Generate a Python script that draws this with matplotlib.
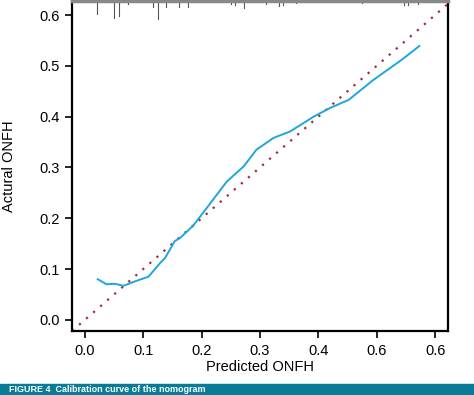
import numpy as np
import matplotlib.pyplot as plt
from matplotlib.patches import Rectangle

plt.rcParams["font.family"] = ["Liberation Sans", "DejaVu Sans"]

# Calibration curve
pred_x = [0.022, 0.037, 0.051, 0.066, 0.089, 0.109, 0.129, 0.137, 0.154,
          0.163, 0.186, 0.214, 0.243, 0.272, 0.294, 0.323, 0.352, 0.392,
          0.420, 0.452, 0.494, 0.543, 0.573]
actual_y = [0.080, 0.070, 0.071, 0.067, 0.077, 0.085, 0.112, 0.121, 0.155,
            0.161, 0.186, 0.228, 0.272, 0.302, 0.335, 0.358, 0.371, 0.400,
            0.417, 0.433, 0.472, 0.512, 0.539]

# Rug marks along the top
rug_x = [0.021, 0.050, 0.058, 0.074, 0.117, 0.125, 0.139, 0.161, 0.177,
         0.250, 0.257, 0.273, 0.310, 0.333, 0.340, 0.362, 0.475, 0.547,
         0.554, 0.571]
rug_len = [13, 17, 15, 3, 6, 18, 6, 6, 6, 3, 4, 7, 3, 5, 4, 2, 2, 4, 4, 3]

x_ticks = [0.0, 0.1, 0.2, 0.3, 0.4, 0.5, 0.6]
x_labels = ["0.0", "0.1", "0.2", "0.3", "0.4", "0.6", "0.6"]
y_ticks = [0.0, 0.1, 0.2, 0.3, 0.4, 0.5, 0.6]

fig = plt.figure(figsize=(4.74, 3.95), dpi=100)
ax = fig.add_axes([0.152, 0.162, 0.793, 0.836])

xlim = (-0.022, 0.622)
ylim = (-0.022, 0.628)
ax.set_xlim(*xlim)
ax.set_ylim(*ylim)

# ideal line
ax.plot(xlim, xlim, linestyle=(0, (1, 3.2)), color="#a8283a",
        linewidth=1.6, zorder=2)

# apparent curve
ax.plot(pred_x, actual_y, color="#1ea7dc", linewidth=1.4, zorder=3)

# rug
px_per_unit = (ylim[1] - ylim[0]) / (0.836 * 395)
for xv, ln in zip(rug_x, rug_len):
    ax.plot([xv, xv], [ylim[1], ylim[1] - ln * px_per_unit],
            color="#555555", linewidth=0.8, zorder=1)

ax.set_xticks(x_ticks)
ax.set_xticklabels(x_labels)
ax.set_yticks(y_ticks)
ax.set_yticklabels([f"{v:.1f}" for v in y_ticks])
ax.tick_params(direction="out", length=5, width=1.2, labelsize=10.5,
               colors="black", pad=4)

for side in ["left", "bottom", "right"]:
    ax.spines[side].set_linewidth(1.6)
    ax.spines[side].set_color("black")
ax.spines["top"].set_linewidth(2.5)
ax.spines["top"].set_color("#888888")

ax.set_xlabel("Predicted ONFH", fontsize=10.5, labelpad=2)
fig.text(0.02, 0.58, "Actural ONFH", rotation=90, fontsize=10.5,
         ha="center", va="center")

# caption banner at bottom
fig.patches.append(Rectangle((0, 0), 1, 11 / 395, transform=fig.transFigure,
                             color="#0a7b96", zorder=0))
fig.text(0.02, 5.5 / 395, "FIGURE 4  Calibration curve of the nomogram",
         color="white", fontsize=6.5, fontweight="bold", va="center")

fig.savefig("out.png", dpi=100)
